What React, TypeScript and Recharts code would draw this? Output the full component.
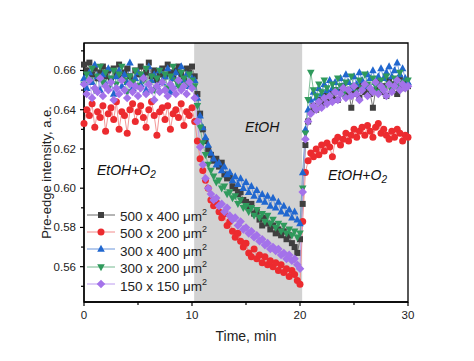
import React from 'react'
import {
  ComposedChart,
  Line,
  XAxis,
  YAxis,
  ReferenceArea,
  ReferenceDot,
  Legend,
} from 'recharts'

// time axis, min
const times = [
  0, 0.25, 0.5, 0.75, 1, 1.25, 1.5, 1.75, 2, 2.25, 2.5, 2.75, 3, 3.25, 3.5, 3.75, 4, 4.25, 4.5, 4.75,
  5, 5.25, 5.5, 5.75, 6, 6.25, 6.5, 6.75, 7, 7.25, 7.5, 7.75, 8, 8.25, 8.5, 8.75, 9, 9.25, 9.5, 9.75, 10,
  10.25, 10.5, 10.75, 11, 11.25, 11.5, 11.75, 12, 12.25, 12.5, 12.75, 13, 13.25, 13.5, 13.75, 14, 14.25, 14.5, 14.75, 15,
  15.25, 15.5, 15.75, 16, 16.25, 16.5, 16.75, 17, 17.25, 17.5, 17.75, 18, 18.25, 18.5, 18.75, 19, 19.25, 19.5, 19.75, 20,
  20.25, 20.5, 20.75, 21, 21.25, 21.5, 21.75, 22, 22.25, 22.5, 22.75, 23, 23.25, 23.5, 23.75, 24, 24.25, 24.5, 24.75, 25,
  25.25, 25.5, 25.75, 26, 26.25, 26.5, 26.75, 27, 27.25, 27.5, 27.75, 28, 28.25, 28.5, 28.75, 29, 29.25, 29.5, 29.75, 30,
]

const s500x400 = [
  0.663, 0.660, 0.664, 0.658, 0.661, 0.656, 0.659, 0.662, 0.657, 0.660, 0.655, 0.661, 0.658, 0.663, 0.656, 0.659, 0.661, 0.657, 0.654, 0.660,
  0.658, 0.662, 0.656, 0.659, 0.664, 0.657, 0.660, 0.655, 0.658, 0.661, 0.657, 0.663, 0.659, 0.656, 0.660, 0.662, 0.658, 0.655, 0.661, 0.659, 0.662,
  0.657, 0.648, 0.638, 0.630, 0.624, 0.620, 0.617, 0.614, 0.615, 0.611, 0.613, 0.607, 0.605, 0.606, 0.601, 0.600, 0.597, 0.598, 0.594, 0.593,
  0.590, 0.592, 0.587, 0.588, 0.584, 0.581, 0.585, 0.582, 0.579, 0.581, 0.577, 0.579, 0.576, 0.578, 0.574, 0.576, 0.572, 0.570, 0.567, 0.574,
  0.592, 0.622, 0.634, 0.639, 0.642, 0.640, 0.645, 0.643, 0.647, 0.644, 0.648, 0.646, 0.650, 0.645, 0.649, 0.652, 0.647, 0.650, 0.641, 0.648,
  0.651, 0.646, 0.653, 0.649, 0.652, 0.648, 0.641, 0.650, 0.654, 0.649, 0.652, 0.647, 0.655, 0.650, 0.653, 0.648, 0.656, 0.651, 0.654, 0.652,
]

const s500x200 = [
  0.633, 0.640, 0.637, 0.643, 0.631, 0.639, 0.636, 0.642, 0.629, 0.638, 0.641, 0.635, 0.644, 0.630, 0.639, 0.637, 0.628, 0.640, 0.643, 0.634,
  0.639, 0.642, 0.636, 0.631, 0.640, 0.644, 0.637, 0.627, 0.639, 0.641, 0.635, 0.642, 0.630, 0.638, 0.640, 0.636, 0.643, 0.632, 0.639, 0.637, 0.641,
  0.634, 0.624, 0.615, 0.609, 0.604, 0.600, 0.594, 0.591, 0.593, 0.588, 0.585, 0.587, 0.581, 0.583, 0.578, 0.575, 0.577, 0.573, 0.570, 0.572,
  0.567, 0.565, 0.569, 0.564, 0.566, 0.562, 0.565, 0.561, 0.563, 0.560, 0.562, 0.558, 0.561, 0.557, 0.559, 0.555, 0.558, 0.556, 0.553, 0.551,
  0.583, 0.608, 0.614, 0.618, 0.616, 0.620, 0.617, 0.622, 0.619, 0.623, 0.621, 0.616, 0.624, 0.626, 0.622, 0.625, 0.628, 0.624, 0.627, 0.630,
  0.626, 0.629, 0.631, 0.627, 0.632, 0.629, 0.626, 0.631, 0.633, 0.628, 0.630, 0.627, 0.625, 0.629, 0.626, 0.630, 0.628, 0.624, 0.627, 0.626,
]

const s300x400 = [
  0.656, 0.651, 0.659, 0.654, 0.663, 0.657, 0.650, 0.658, 0.653, 0.661, 0.655, 0.648, 0.657, 0.660, 0.652, 0.658, 0.654, 0.664, 0.651, 0.656,
  0.659, 0.653, 0.657, 0.650, 0.662, 0.655, 0.658, 0.652, 0.660, 0.654, 0.657, 0.661, 0.649, 0.656, 0.659, 0.653, 0.662, 0.655, 0.658, 0.652, 0.656,
  0.655, 0.646, 0.637, 0.631, 0.626, 0.622, 0.618, 0.615, 0.612, 0.613, 0.609, 0.611, 0.607, 0.608, 0.604, 0.606, 0.602, 0.605, 0.600, 0.603,
  0.598, 0.601, 0.596, 0.599, 0.594, 0.597, 0.593, 0.596, 0.591, 0.595, 0.590, 0.593, 0.588, 0.591, 0.587, 0.589, 0.585, 0.588, 0.584, 0.582,
  0.608, 0.630, 0.640, 0.645, 0.649, 0.646, 0.651, 0.648, 0.653, 0.650, 0.655, 0.651, 0.654, 0.649, 0.656, 0.652, 0.658, 0.654, 0.651, 0.657,
  0.653, 0.659, 0.655, 0.652, 0.658, 0.656, 0.660, 0.654, 0.657, 0.661, 0.656, 0.659, 0.662, 0.657, 0.660, 0.664, 0.658, 0.661, 0.656, 0.654,
]

const s300x200 = [
  0.653, 0.658, 0.655, 0.661, 0.650, 0.657, 0.662, 0.654, 0.659, 0.651, 0.656, 0.660, 0.653, 0.658, 0.662, 0.655, 0.649, 0.657, 0.654, 0.660,
  0.652, 0.658, 0.655, 0.661, 0.653, 0.657, 0.650, 0.656, 0.660, 0.654, 0.658, 0.651, 0.657, 0.662, 0.655, 0.652, 0.659, 0.656, 0.653, 0.658, 0.655,
  0.652, 0.642, 0.631, 0.623, 0.617, 0.612, 0.609, 0.606, 0.603, 0.604, 0.600, 0.601, 0.597, 0.598, 0.595, 0.596, 0.592, 0.594, 0.590, 0.591,
  0.588, 0.590, 0.586, 0.589, 0.585, 0.587, 0.583, 0.586, 0.582, 0.584, 0.580, 0.582, 0.578, 0.581, 0.577, 0.579, 0.576, 0.578, 0.575, 0.577,
  0.600, 0.628, 0.645, 0.659, 0.650, 0.647, 0.653, 0.649, 0.655, 0.651, 0.647, 0.653, 0.650, 0.656, 0.652, 0.648, 0.654, 0.650, 0.657, 0.652,
  0.649, 0.655, 0.651, 0.658, 0.653, 0.650, 0.656, 0.652, 0.649, 0.655, 0.651, 0.657, 0.653, 0.650, 0.656, 0.652, 0.659, 0.654, 0.651, 0.655,
]

const s150x150 = [
  0.653, 0.648, 0.655, 0.646, 0.651, 0.649, 0.656, 0.647, 0.652, 0.650, 0.654, 0.645, 0.651, 0.648, 0.655, 0.650, 0.646, 0.653, 0.649, 0.652,
  0.647, 0.651, 0.656, 0.648, 0.653, 0.650, 0.645, 0.652, 0.649, 0.654, 0.650, 0.647, 0.653, 0.651, 0.648, 0.655, 0.650, 0.652, 0.648, 0.654, 0.651,
  0.646, 0.634, 0.621, 0.612, 0.605, 0.600, 0.597, 0.594, 0.595, 0.591, 0.592, 0.588, 0.590, 0.586, 0.584, 0.585, 0.581, 0.583, 0.579, 0.580,
  0.577, 0.578, 0.575, 0.576, 0.573, 0.574, 0.571, 0.572, 0.569, 0.570, 0.568, 0.569, 0.566, 0.567, 0.564, 0.566, 0.563, 0.564, 0.561, 0.559,
  0.598, 0.625, 0.634, 0.638, 0.642, 0.640, 0.644, 0.641, 0.646, 0.643, 0.647, 0.644, 0.649, 0.645, 0.648, 0.651, 0.646, 0.650, 0.647, 0.652,
  0.648, 0.645, 0.650, 0.653, 0.647, 0.651, 0.649, 0.654, 0.648, 0.652, 0.650, 0.647, 0.653, 0.649, 0.652, 0.655, 0.650, 0.653, 0.651, 0.652,
]

const xTicks = [0, 5, 10, 15, 20, 25, 30]
const yTicks = [0.55, 0.56, 0.57, 0.58, 0.59, 0.6, 0.61, 0.62, 0.63, 0.64, 0.65, 0.66, 0.67]

const series = [
  { key: 'a', label: '500 x 400', values: s500x400, shape: 'square', color: '#3f3f3f', line: '#6a6a6a' },
  { key: 'b', label: '500 x 200', values: s500x200, shape: 'circle', color: '#ec2b2f', line: '#f28b8b' },
  { key: 'c', label: '300 x 400', values: s300x400, shape: 'triUp', color: '#2067cf', line: '#6b95db' },
  { key: 'd', label: '300 x 200', values: s300x200, shape: 'triDown', color: '#2f9a5c', line: '#74b98f' },
  { key: 'e', label: '150 x 150', values: s150x150, shape: 'diamond', color: '#a472ea', line: '#bc9bf0' },
]

const data = times.map((t, i) => {
  const row: any = { t }
  series.forEach(s => { row[s.key] = s.values[i] })
  return row
})

const FONT = '"Liberation Sans", Arial, sans-serif'

const Marker = ({ shape, cx, cy, fill }: any) => {
  if (cx == null || cy == null) return null
  switch (shape) {
    case 'square':
      return <rect x={cx - 3} y={cy - 3} width={6} height={6} fill={fill} />
    case 'circle':
      return <circle cx={cx} cy={cy} r={3.5} fill={fill} />
    case 'triUp':
      return <polygon points={`${cx},${cy - 4.2} ${cx + 3.8},${cy + 2.8} ${cx - 3.8},${cy + 2.8}`} fill={fill} />
    case 'triDown':
      return <polygon points={`${cx - 3.8},${cy - 2.8} ${cx + 3.8},${cy - 2.8} ${cx},${cy + 4.2}`} fill={fill} />
    default:
      return <polygon points={`${cx},${cy - 4.3} ${cx + 4.3},${cy} ${cx},${cy + 4.3} ${cx - 4.3},${cy}`} fill={fill} />
  }
}

const XTick = ({ x, y, payload }: any) => {
  const major = payload.value % 10 === 0
  return (
    <g>
      <line x1={x} x2={x} y1={y} y2={y + (major ? 4 : 3)} stroke="#000" strokeWidth={1.2} />
      {major && (
        <text x={x} y={y + 17} textAnchor="middle" fontSize={11.5} fontFamily={FONT} fill="#222">
          {payload.value}
        </text>
      )}
    </g>
  )
}

const YTick = ({ x, y, payload }: any) => {
  const major = Math.round(payload.value * 100) % 2 === 0
  return (
    <g>
      <line x1={x} x2={x - (major ? 4 : 3)} y1={y} y2={y} stroke="#000" strokeWidth={1.2} />
      {major && (
        <text x={x - 8} y={y + 4} textAnchor="end" fontSize={11.5} fontFamily={FONT} fill="#222">
          {payload.value.toFixed(2)}
        </text>
      )}
    </g>
  )
}

const PhaseLabel = ({ cx, cy, text, sub, anchor }: any) => (
  <text x={cx} y={cy} textAnchor={anchor} dominantBaseline="central" fontSize={14}
    fontStyle="italic" fontFamily={FONT} fill="#111">
    {text}
    {sub && <tspan dy={4} fontSize={10}>{sub}</tspan>}
  </text>
)

const LegendBox = () => (
  <div style={{ fontFamily: FONT, fontSize: 13.5, color: '#222', lineHeight: '17.4px' }}>
    {series.map(s => (
      <div key={s.key} style={{ display: 'flex', alignItems: 'center', height: 17.4 }}>
        <svg width={30} height={12} style={{ display: 'block' }}>
          <line x1={0} x2={28} y1={6} y2={6} stroke={s.line} strokeWidth={1} />
          <Marker shape={s.shape} cx={14} cy={6} fill={s.color} />
        </svg>
        <span style={{ marginLeft: 3, whiteSpace: 'nowrap' }}>
          {s.label} μm<sup style={{ fontSize: 9, verticalAlign: 6 }}>2</sup>
        </span>
      </div>
    ))}
  </div>
)

export default function App() {
  return (
    <div style={{ position: 'absolute', left: 0, top: 0, width: 474, height: 361, background: '#fff' }}>
      <ComposedChart width={474} height={361} data={data}
        margin={{ top: 43, right: 66, left: 0, bottom: 29 }}>
        <ReferenceArea x1={10.2} x2={20.2} y1={0.542} y2={0.674} fill="#d2d2d2" fillOpacity={1} stroke="none" />
        <XAxis dataKey="t" type="number" domain={[0, 30]} ticks={xTicks} interval={0}
          height={30} tickSize={0} tickMargin={0} tickLine={false}
          axisLine={{ stroke: '#000', strokeWidth: 1.3 }} tick={<XTick />}
          label={{ value: 'Time, min', position: 'insideBottom', offset: -9, fontSize: 14, fontFamily: FONT, fill: '#222' }} />
        <YAxis type="number" domain={[0.542, 0.674]} ticks={yTicks} interval={0} width={84}
          tickSize={0} tickMargin={0} tickLine={false} allowDataOverflow
          axisLine={{ stroke: '#000', strokeWidth: 1.3 }} tick={<YTick />}
          label={{ value: 'Pre-edge intensity, a.e.', angle: -90, position: 'insideLeft', offset: 46, fontSize: 13, fontFamily: FONT, fill: '#222', style: { textAnchor: 'middle' } }} />
        {series.map(s => (
          <Line key={s.key} dataKey={s.key} stroke={s.line} strokeWidth={0.9} isAnimationActive={false}
            dot={(p: any) => <Marker key={`${s.key}-${p.index}`} shape={s.shape} cx={p.cx} cy={p.cy} fill={s.color} />}
            activeDot={false} legendType="none" />
        ))}
        <ReferenceArea x1={0} x2={30} y1={0.542} y2={0.674} fill="none" stroke="#000" strokeWidth={1.3} />
        <ReferenceDot x={16.5} y={0.6314} r={0} shape={(p: any) => <PhaseLabel cx={p.cx} cy={p.cy} text="EtOH" anchor="middle" />} />
        <ReferenceDot x={1.2} y={0.6091} r={0} shape={(p: any) => <PhaseLabel cx={p.cx} cy={p.cy} text="EtOH+O" sub="2" anchor="start" />} />
        <ReferenceDot x={22.6} y={0.6065} r={0} shape={(p: any) => <PhaseLabel cx={p.cx} cy={p.cy} text="EtOH+O" sub="2" anchor="start" />} />
        <Legend layout="vertical" align="center" verticalAlign="middle" content={<LegendBox />}
          wrapperStyle={{ left: 87, top: 206, width: 130 }} />
      </ComposedChart>
    </div>
  )
}
